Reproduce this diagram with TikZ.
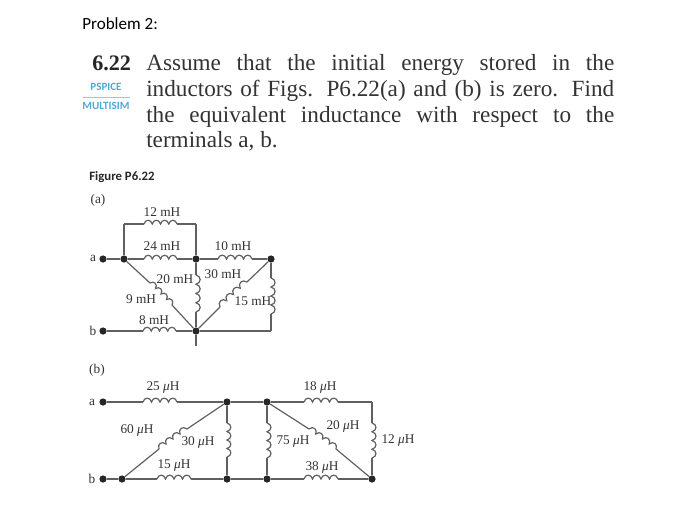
\documentclass[tikz,border=0pt]{standalone}
\usepackage{fontspec}
\setmainfont{Liberation Serif}
\newfontfamily\carl{Carlito}
\usetikzlibrary{calc}
\definecolor{wirec}{HTML}{606060}
\definecolor{inkc}{HTML}{333333}
\definecolor{bluec}{HTML}{4FA9D6}
\tikzset{
  wire/.style={draw=wirec,line width=0.9pt},
  hump/.style={relative,out=75,in=105,looseness=1.6},
  dot/.style={circle,fill=black!85,inner sep=0pt,minimum size=5.4pt},
  lab/.style={inner sep=0pt,text=inkc,font=\fontsize{10pt}{12pt}\selectfont},
  para/.style={inner sep=0pt,anchor=base west,text=inkc,font=\fontsize{17.4pt}{20pt}\selectfont},
}
\newcommand{\coilwire}[4]{%
  \draw[wire] (#1) -- (#3);
  \draw[wire] (#3) to[hump] ($(#3)!.25!(#4)$) to[hump] ($(#3)!.5!(#4)$) to[hump] ($(#3)!.75!(#4)$) to[hump] (#4);
  \draw[wire] (#4) -- (#2);}
\begin{document}
\begin{tikzpicture}[x=0.75pt,y=-0.75pt]
\useasboundingbox (0,0) rectangle (700,511);
\node[inner sep=0pt,anchor=base west,text=black,font=\carl\fontsize{12.8pt}{14pt}\selectfont] (title) at (82,29) {Problem 2:};
\node[inner sep=0pt,anchor=base west,text=black!85,font=\fontsize{16.6pt}{20pt}\selectfont\bfseries] (num) at (92,70) {6.22};
\node[para] (l1) at (146,70) {\makebox[351pt][s]{Assume that the initial energy stored in the}};
\node[para] (l2) at (146,96) {\makebox[351pt][s]{inductors of Figs. P6.22(a) and (b) is zero. Find}};
\node[para] (l3) at (146,122) {\makebox[351pt][s]{the equivalent inductance with respect to the}};
\node[para] (l4) at (146,147) {terminals a, b.};
\node[inner sep=0pt,text=bluec,font=\carl\bfseries\fontsize{8.3pt}{9pt}\selectfont] (ps) at (106,87) {PSPICE};
\node[inner sep=0pt,text=bluec,font=\carl\bfseries\fontsize{8.3pt}{9pt}\selectfont] (ms) at (106,106) {MULTISIM};
\coordinate (r1) at (83,97); \coordinate (r2) at (130,97);
\draw[bluec!60,line width=0.5pt] (r1) -- (r2);
\node[inner sep=0pt,text=black!85,font=\carl\bfseries\fontsize{9.6pt}{11pt}\selectfont] (fig) at (122,177) {Figure P6.22};
% (a)
\node[lab] (pa) at (98,200) {(a)};
\node[dot] (aT) at (103,259) {};
\node[dot] (aL) at (124,259) {};
\node[dot] (aM) at (196,259) {};
\node[dot] (aR) at (271,259) {};
\node[dot] (aB) at (196,331) {};
\node[dot] (bT) at (103,331) {};
\coordinate (tl) at (124,224); \coordinate (tr) at (196,224);
\coordinate (br) at (271,331); \coordinate (st) at (196,346);
\draw[wire] (aT) -- (aL);
\draw[wire] (aL) -- (tl);
\draw[wire] (tr) -- (aM);
\draw[wire] (aB) -- (st);
\draw[wire] (aB) -- (br);
\coordinate (c1a) at (144,224); \coordinate (c1b) at (177,224);
\coilwire{tl}{tr}{c1a}{c1b}
\coordinate (c2a) at (144,259); \coordinate (c2b) at (177,259);
\coilwire{aL}{aM}{c2a}{c2b}
\coordinate (c3a) at (218,259); \coordinate (c3b) at (252,259);
\coilwire{aM}{aR}{c3a}{c3b}
\coordinate (c4a) at (143,331); \coordinate (c4b) at (176,331);
\coilwire{bT}{aB}{c4a}{c4b}
\coordinate (c5a) at (196,275); \coordinate (c5b) at (196,312);
\coilwire{aM}{aB}{c5a}{c5b}
\coordinate (c6a) at (271,278); \coordinate (c6b) at (271,314);
\coilwire{aR}{br}{c6a}{c6b}
\coordinate (c7a) at (150,283); \coordinate (c7b) at (172,305);
\coilwire{aL}{aB}{c7a}{c7b}
\coordinate (c8a) at (220,307); \coordinate (c8b) at (247,282);
\coilwire{aB}{aR}{c8a}{c8b}
\node[lab] (n1) at (162,212) {12 mH};
\node[lab] (n2) at (162,246) {24 mH};
\node[lab] (n3) at (233,246) {10 mH};
\node[lab] (n4) at (175,279) {20 mH};
\node[lab] (n5) at (223,274) {30 mH};
\node[lab] (n6) at (141,299) {9 mH};
\node[lab] (n7) at (253,301) {15 mH};
\node[lab] (n8) at (154,320) {8 mH};
\node[lab] (na) at (93,258) {a};
\node[lab] (nb) at (93,331) {b};
% (b)
\node[lab] (pb) at (97,370) {(b)};
\node[dot] (Ba) at (103,402) {};
\node[dot] (P1) at (227,402) {};
\node[dot] (P2) at (267,402) {};
\node[dot] (Bb) at (103,479) {};
\node[dot] (Bc) at (122,479) {};
\node[dot] (Q1) at (227,479) {};
\node[dot] (Q2) at (267,479) {};
\node[dot] (Qr) at (372,479) {};
\coordinate (Pr) at (372,402);
\draw[wire] (Bb) -- (Bc);
\draw[wire] (P1) -- (P2);
\draw[wire] (Q1) -- (Q2);
\coordinate (d1a) at (143,402); \coordinate (d1b) at (177,402);
\coilwire{Ba}{P1}{d1a}{d1b}
\coordinate (d2a) at (157,479); \coordinate (d2b) at (191,479);
\coilwire{Bc}{Q1}{d2a}{d2b}
\coordinate (d3a) at (227,423); \coordinate (d3b) at (227,457);
\coilwire{P1}{Q1}{d3a}{d3b}
\coordinate (d4a) at (267,423); \coordinate (d4b) at (267,458);
\coilwire{P2}{Q2}{d4a}{d4b}
\coordinate (d5a) at (159,449); \coordinate (d5b) at (187,429);
\coilwire{Bc}{P1}{d5a}{d5b}
\coordinate (d6a) at (304,402); \coordinate (d6b) at (338,402);
\coilwire{P2}{Pr}{d6a}{d6b}
\coordinate (d7a) at (304,479); \coordinate (d7b) at (338,479);
\coilwire{Q2}{Qr}{d7a}{d7b}
\coordinate (d8a) at (372,423); \coordinate (d8b) at (372,458);
\coilwire{Pr}{Qr}{d8a}{d8b}
\coordinate (d9a) at (309,429); \coordinate (d9b) at (336,449);
\coilwire{P2}{Qr}{d9a}{d9b}
\node[lab] (m1) at (163,388) {25 \textit{μ}H};
\node[lab] (m2) at (137,430) {60 \textit{μ}H};
\node[lab] (m3) at (198,442) {30 \textit{μ}H};
\node[lab] (m4) at (174,466) {15 \textit{μ}H};
\node[lab] (m5) at (320,387) {18 \textit{μ}H};
\node[lab] (m6) at (343,426) {20 \textit{μ}H};
\node[lab] (m7) at (293,442) {75 \textit{μ}H};
\node[lab] (m8) at (322,467) {38 \textit{μ}H};
\node[lab] (m9) at (398,441) {12 \textit{μ}H};
\node[lab] (ma) at (92,402) {a};
\node[lab] (mb) at (92,479) {b};
\end{tikzpicture}
\end{document}
